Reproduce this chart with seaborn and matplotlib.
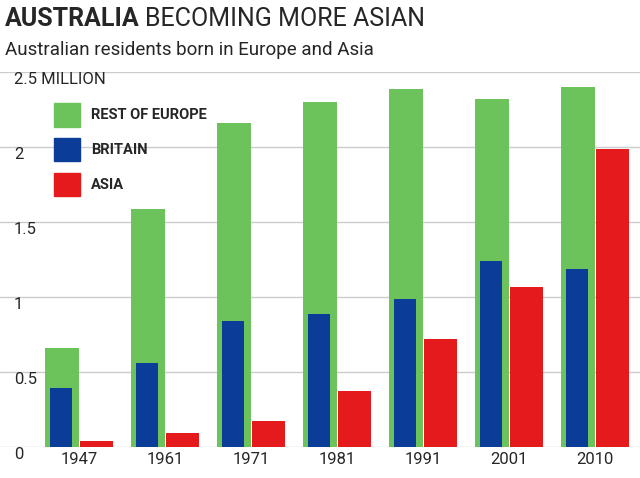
import matplotlib
matplotlib.use("Agg")
import matplotlib.pyplot as plt
import seaborn as sns
import numpy as np
import pandas as pd

years = ["1947", "1961", "1971", "1981", "1991", "2001", "2010"]
europe_total = [0.66, 1.59, 2.16, 2.30, 2.39, 2.32, 2.40]
britain = [0.39, 0.56, 0.84, 0.89, 0.99, 1.24, 1.19]
asia = [0.04, 0.09, 0.17, 0.37, 0.72, 1.07, 1.99]
ytick_vals = [0, 0.5, 1, 1.5, 2, 2.5]
ytick_labels = ["0", "0.5", "1", "1.5", "2", "2.5 MILLION"]

sns.set_style("white")
plt.rcParams['font.family'] = ['Liberation Sans Narrow', 'Roboto', 'DejaVu Sans']

green, blue, red = "#6cc35c", "#0b3c98", "#e41a1c"
idx = np.arange(len(years))

fig = plt.figure(figsize=(6.4, 4.78), dpi=100)
ax = fig.add_axes([0.0, 0.065, 1.0, 0.784])

kw = dict(native_scale=True, saturation=1, ax=ax, linewidth=0, edgecolor="none")
sns.barplot(x=idx - 0.2, y=europe_total, width=0.395, color=green, zorder=2, **kw)
sns.barplot(x=idx - 0.21, y=britain, width=0.26, color=blue, zorder=3, **kw)
sns.barplot(x=idx + 0.2, y=asia, width=0.38, color=red, zorder=3, **kw)

ax.set_xlim(-0.92, 6.52)
ax.set_ylim(0, 2.5)
ax.set_xticks(idx)
ax.set_xticklabels(years, fontsize=12)
ax.set_yticks(ytick_vals)
ax.set_yticklabels(ytick_labels, fontsize=12)
for t in ax.get_yticklabels():
    t.set_horizontalalignment("left")
    t.set_verticalalignment("top")
ax.tick_params(axis='y', pad=-10, length=0)
ax.tick_params(axis='x', length=0, pad=4)
ax.grid(axis='y', color="#cccccc", lw=1, zorder=0)
for s in ax.spines.values():
    s.set_visible(False)
ax.set_xlabel(""); ax.set_ylabel("")

leg_items = [("REST OF EUROPE", green), ("BRITAIN", blue), ("ASIA", red)]
for i, (lab, c) in enumerate(leg_items):
    y = 0.885 - i * 0.093
    ax.add_patch(plt.Rectangle((0.085, y - 0.03), 0.04, 0.062, transform=ax.transAxes,
                               color=c, zorder=5))
    ax.text(0.142, y, lab, transform=ax.transAxes, fontsize=10.5, fontweight="bold",
            va="center", ha="left", zorder=5)

t1 = fig.text(0.008, 0.985, "AUSTRALIA", fontsize=18, fontweight="bold", va="top", ha="left")
fig.canvas.draw()
bb = t1.get_window_extent(fig.canvas.get_renderer())
x2 = bb.x1 / fig.bbox.width + 0.008
fig.text(x2, 0.985, "BECOMING MORE ASIAN", fontsize=18, va="top", ha="left")
fig.text(0.008, 0.915, "Australian residents born in Europe and Asia", fontsize=13.5,
         va="top", ha="left")

fig.savefig("out.png", dpi=100)
